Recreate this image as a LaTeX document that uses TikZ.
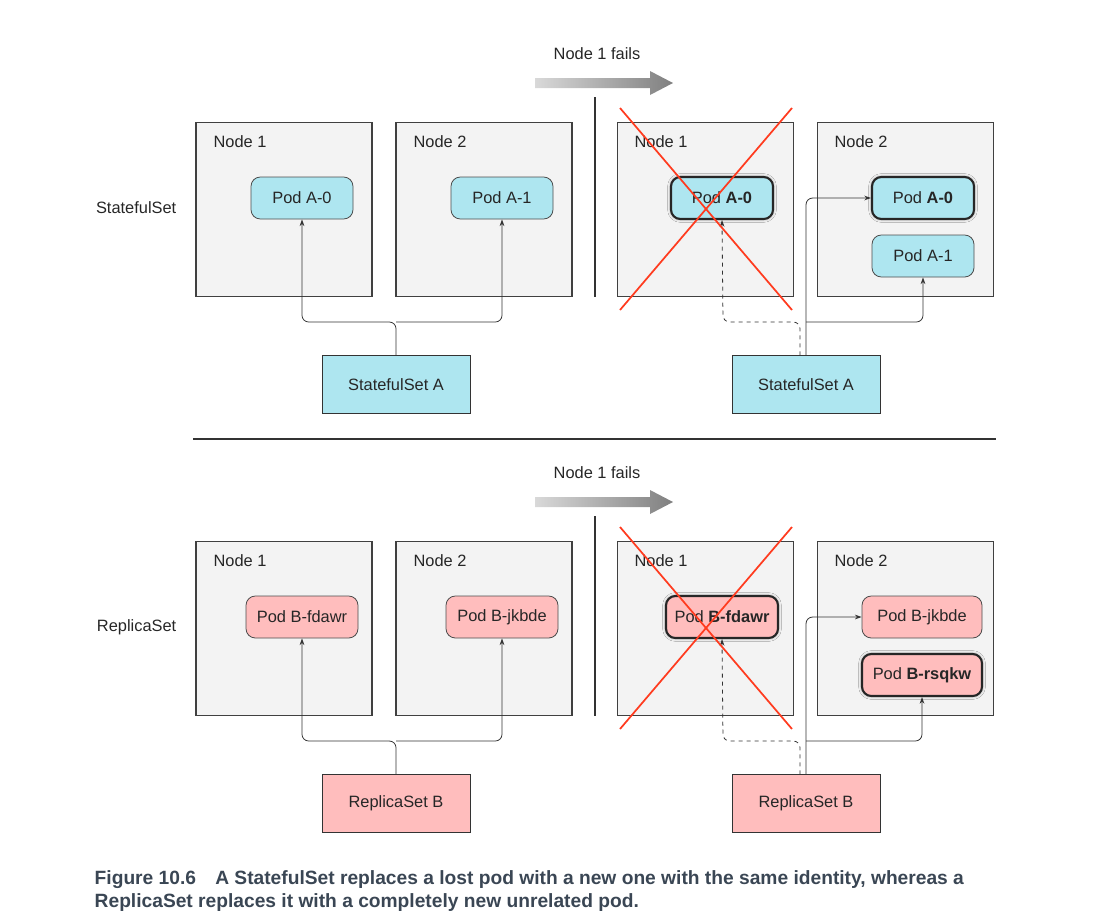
\documentclass[tikz,border=0pt]{standalone}
\usepackage{fontspec}
\setmainfont{Liberation Sans}
\usetikzlibrary{arrows.meta,shadows.blur}
\definecolor{boxfill}{HTML}{F3F3F3}
\definecolor{podblue}{HTML}{AEE6F0}
\definecolor{podred}{HTML}{FFBDBD}
\definecolor{xred}{HTML}{FF3B1F}
\definecolor{capcol}{HTML}{3A4654}
\tikzset{
  host/.style={draw=black!75, fill=boxfill, line width=0.8pt, minimum width=132pt, minimum height=131pt},
  hostlbl/.style={font=\fontsize{12.3}{14}\selectfont, text=black!85},
  pod/.style={draw=black!70, rounded corners=7pt, line width=0.6pt, minimum height=31.5pt, font=\fontsize{12.3}{14}\selectfont, text=black!85},
  hot/.style={line width=1.6pt, draw=black!85, blur shadow={shadow xshift=0pt, shadow yshift=0pt, shadow blur radius=2.5pt, shadow opacity=35}},
  ctrl/.style={draw=black!80, line width=0.6pt, minimum width=111pt, minimum height=43pt, font=\fontsize{12.3}{14}\selectfont, text=black!85},
  link/.style={draw=black!80, line width=0.6pt, rounded corners=5pt},
  tip/.style={-{Stealth[length=5pt,width=3.5pt]}},
  cross/.style={draw=xred, line width=1.3pt},
  side/.style={font=\fontsize{12.3}{14}\selectfont, text=black!85}
}
\begin{document}
\begin{tikzpicture}[x=0.75pt,y=-0.75pt]
\useasboundingbox (0,0) rectangle (1106,922);
\foreach \dy/\kind/\fill/\sidename/\ctl/\pa/\pb/\pc/\wide in
  {0/s/podblue/StatefulSet/StatefulSet A/Pod A-0/Pod A-1/Pod \textbf{A-0}/102,
   419/r/podred/ReplicaSet/ReplicaSet B/Pod B-fdawr/Pod B-jkbde/Pod \textbf{B-fdawr}/112}{
  \begin{scope}[yshift=-\dy*0.75pt]
  % failure arrow
  \node[side] (fail\kind) at (597,54) {Node 1 fails};
  \shade[left color=white!85!black, right color=black!50]
    (535,78) -- (650,78) -- (650,71) -- (673,83) -- (650,95) -- (650,88) -- (535,88) -- cycle;
  \draw[black!80, line width=0.8pt] (595,97) -- (595,297);
  % hosts
  \node[host] (h1\kind) at (284,209.5) {};
  \node[host] (h2\kind) at (484,209.5) {};
  \node[host] (h3\kind) at (705.5,209.5) {};
  \node[host] (h4\kind) at (905.5,209.5) {};
  \node[hostlbl] at (240,142) {Node 1};
  \node[hostlbl] at (440,142) {Node 2};
  \node[hostlbl] at (661,142) {Node 1};
  \node[hostlbl] at (861,142) {Node 2};
  \node[side, anchor=east] (lbl\kind) at (181,208) {\sidename};
  % pods
  \node[pod, fill=\fill, minimum width=\wide*0.75pt] (p1\kind) at (302,198) {\pa};
  \node[pod, fill=\fill, minimum width=\wide*0.75pt] (p2\kind) at (502,198) {\pb};
  \node[pod, hot, fill=\fill, minimum width=\wide*0.75pt] (p3\kind) at (722,198) {\pc};
  % controllers
  \node[ctrl, fill=\fill] (c1\kind) at (396,384.5) {\ctl};
  \node[ctrl, fill=\fill] (c2\kind) at (806,384.5) {\ctl};
  \coordinate (j\kind) at (396,322);
  \draw[link, tip] (c1\kind.north) -- (j\kind) -| (p1\kind.south);
  \draw[link, tip] (j\kind) -| (p2\kind.south);
  \draw[link, dashed, tip] ([xshift=-4.5pt]c2\kind.north) |- (723,322) -- (p3\kind.south);
  % red cross
  \draw[cross] (620,108) -- (792,310);
  \draw[cross] (620,310) -- (792,108);
  \end{scope}}
% right-side pods of the top section
\node[pod, hot, fill=podblue, minimum width=76.5pt] (n0s) at (923,198) {Pod \textbf{A-0}};
\node[pod, fill=podblue, minimum width=76.5pt] (n1s) at (923,256) {Pod A-1};
\draw[link, tip] (c2s.north) |- (n0s.west);
\draw[link, tip] (806,322) -| (n1s.south);
% right-side pods of the bottom section
\node[pod, fill=podred, minimum width=90pt] (n0r) at (922,617) {Pod B-jkbde};
\node[pod, hot, fill=podred, minimum width=90pt] (n1r) at (922,675) {Pod \textbf{B-rsqkw}};
\draw[link, tip] (c2r.north) |- (n0r.west);
\draw[link, tip] (806,741) -| (n1r.south);
% separator
\draw[black!80, line width=0.8pt] (193,439) -- (996,439);
% caption
\node[anchor=north west, align=left, text=capcol, font=\bfseries\fontsize{14.4}{17.5}\selectfont] (cap) at (90,866)
  {Figure 10.6\hspace{1em}A StatefulSet replaces a lost pod with a new one with the same identity, whereas a\\
   ReplicaSet replaces it with a completely new unrelated pod.};
\end{tikzpicture}
\end{document}
